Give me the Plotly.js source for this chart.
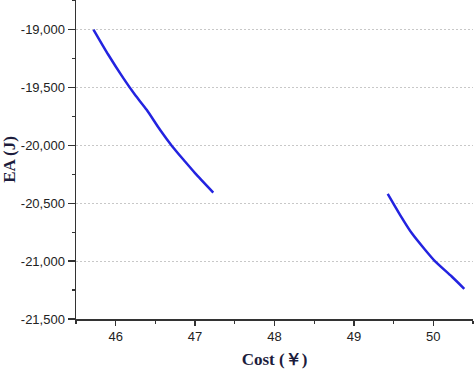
<!DOCTYPE html>
<html>
<head>
<meta charset="utf-8">
<script src="https://cdn.plot.ly/plotly-3.0.1.min.js"></script>
<style>html,body{margin:0;padding:0;background:#fff;}#chart{width:474px;height:370px;}</style>
</head>
<body>
<div id="chart"></div>
<script>
var costLow = [45.72, 45.907, 46.096, 46.243, 46.39, 46.558, 46.713, 46.873, 46.999, 47.229];
var eaLow = [-19000, -19218, -19420, -19564, -19693, -19866, -20010, -20140, -20240, -20408];
var costHigh = [49.426, 49.581, 49.728, 49.896, 50.02, 50.232, 50.39];
var eaHigh = [-20419, -20600, -20758, -20902, -21000, -21133, -21239];
var yTickVals = [-19000, -19500, -20000, -20500, -21000, -21500];
var yTickText = ["-19,000", "-19,500", "-20,000", "-20,500", "-21,000", "-21,500"];
var xTickVals = [46, 47, 48, 49, 50];
var xTickText = ["46", "47", "48", "49", "50"];

var lineStyle = {color: '#2323e0', width: 2.5, shape: 'spline', smoothing: 0.6};
var traces = [
  {x: costLow, y: eaLow, mode: 'lines', line: lineStyle, showlegend: false},
  {x: costHigh, y: eaHigh, mode: 'lines', line: lineStyle, showlegend: false}
];
var axisFont = {family: 'Liberation Sans, Arial, sans-serif', size: 13, color: '#222'};
var titleFont = {family: 'Liberation Serif, Times New Roman, serif', size: 17, color: '#1c1c3c', weight: 'bold'};
var layout = {
  width: 474, height: 370,
  margin: {l: 76, r: 1, t: 0, b: 51},
  paper_bgcolor: '#fff', plot_bgcolor: '#fff',
  showlegend: false,
  xaxis: {
    range: [45.5, 50.5],
    tickvals: xTickVals, ticktext: xTickText,
    ticks: 'outside', ticklen: 5, tickwidth: 1.3, tickcolor: '#333',
    minor: {ticks: 'outside', ticklen: 3, tickwidth: 1.2, tickcolor: '#333', dtick: 0.5, tick0: 45.5, showgrid: false},
    showline: true, linecolor: '#333', linewidth: 1.5,
    showgrid: false, zeroline: false,
    tickfont: axisFont,
    title: {text: '<b>Cost (￥)</b>', font: titleFont, standoff: 10}
  },
  yaxis: {
    range: [-21500, -18745],
    tickvals: yTickVals, ticktext: yTickText,
    ticks: 'outside', ticklen: 7, tickwidth: 1.3, tickcolor: '#333',
    minor: {ticks: 'outside', ticklen: 3, tickwidth: 1.2, tickcolor: '#333', dtick: 250, tick0: -21500, showgrid: false},
    showline: true, linecolor: '#333', linewidth: 1.5,
    showgrid: true, gridcolor: '#c8c8c8', gridwidth: 1, griddash: '2px,2px',
    zeroline: false,
    tickfont: axisFont,
    title: {text: '<b>EA (J)</b>', font: titleFont, standoff: 3}
  }
};
Plotly.newPlot('chart', traces, layout, {staticPlot: true, displayModeBar: false});
</script>
</body>
</html>
